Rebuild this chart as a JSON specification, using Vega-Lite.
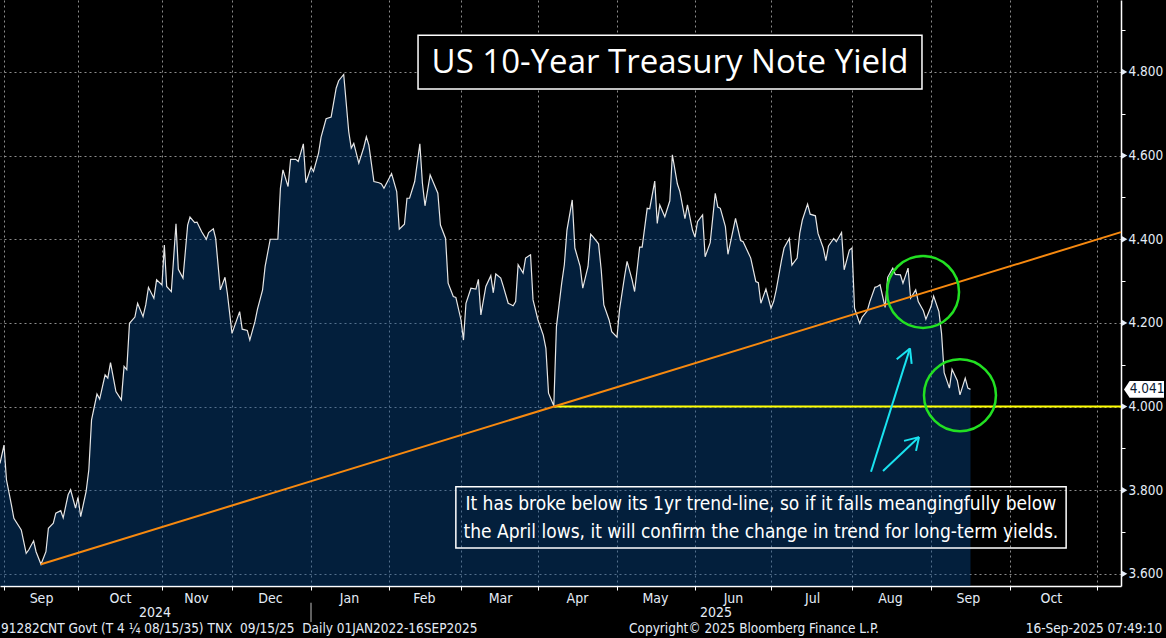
{
  "$schema": "https://vega.github.io/schema/vega-lite/v6.json",
  "width": 1121,
  "height": 586,
  "autosize": {"type": "none"},
  "padding": {"left": 0, "top": 0, "right": 45, "bottom": 52},
  "background": "#000000",
  "config": {"view": {"stroke": null}},
  "resolve": {"axis": {"x": "independent", "y": "independent"}},
  "data": {"values": [
    {"date": "2024-08-30", "v": 3.864}, {"date": "2024-09-01", "v": 3.908}, {"date": "2024-09-02", "v": 3.825}, {"date": "2024-09-04", "v": 3.765},
    {"date": "2024-09-05", "v": 3.733}, {"date": "2024-09-08", "v": 3.705}, {"date": "2024-09-10", "v": 3.649}, {"date": "2024-09-11", "v": 3.657},
    {"date": "2024-09-13", "v": 3.679}, {"date": "2024-09-14", "v": 3.653}, {"date": "2024-09-16", "v": 3.623}, {"date": "2024-09-18", "v": 3.653},
    {"date": "2024-09-19", "v": 3.709}, {"date": "2024-09-21", "v": 3.721}, {"date": "2024-09-22", "v": 3.745}, {"date": "2024-09-24", "v": 3.751},
    {"date": "2024-09-25", "v": 3.734}, {"date": "2024-09-27", "v": 3.789}, {"date": "2024-09-28", "v": 3.801}, {"date": "2024-09-30", "v": 3.757},
    {"date": "2024-10-01", "v": 3.783}, {"date": "2024-10-02", "v": 3.737}, {"date": "2024-10-04", "v": 3.797}, {"date": "2024-10-05", "v": 3.849},
    {"date": "2024-10-06", "v": 3.968}, {"date": "2024-10-08", "v": 4.030}, {"date": "2024-10-09", "v": 4.018}, {"date": "2024-10-11", "v": 4.076},
    {"date": "2024-10-12", "v": 4.068}, {"date": "2024-10-13", "v": 4.105}, {"date": "2024-10-15", "v": 4.036}, {"date": "2024-10-17", "v": 4.016},
    {"date": "2024-10-18", "v": 4.096}, {"date": "2024-10-19", "v": 4.088}, {"date": "2024-10-20", "v": 4.199}, {"date": "2024-10-22", "v": 4.214},
    {"date": "2024-10-23", "v": 4.247}, {"date": "2024-10-25", "v": 4.215}, {"date": "2024-10-26", "v": 4.243}, {"date": "2024-10-27", "v": 4.285},
    {"date": "2024-10-29", "v": 4.259}, {"date": "2024-10-30", "v": 4.303}, {"date": "2024-11-01", "v": 4.291}, {"date": "2024-11-02", "v": 4.386},
    {"date": "2024-11-03", "v": 4.287}, {"date": "2024-11-05", "v": 4.275}, {"date": "2024-11-07", "v": 4.437}, {"date": "2024-11-08", "v": 4.328},
    {"date": "2024-11-10", "v": 4.307}, {"date": "2024-11-12", "v": 4.434}, {"date": "2024-11-13", "v": 4.453}, {"date": "2024-11-15", "v": 4.440},
    {"date": "2024-11-16", "v": 4.441}, {"date": "2024-11-18", "v": 4.418}, {"date": "2024-11-20", "v": 4.400}, {"date": "2024-11-21", "v": 4.416},
    {"date": "2024-11-23", "v": 4.425}, {"date": "2024-11-24", "v": 4.402}, {"date": "2024-11-26", "v": 4.279}, {"date": "2024-11-28", "v": 4.309},
    {"date": "2024-11-29", "v": 4.271}, {"date": "2024-12-01", "v": 4.175}, {"date": "2024-12-04", "v": 4.227}, {"date": "2024-12-05", "v": 4.185},
    {"date": "2024-12-07", "v": 4.182}, {"date": "2024-12-08", "v": 4.159}, {"date": "2024-12-10", "v": 4.203}, {"date": "2024-12-11", "v": 4.233},
    {"date": "2024-12-13", "v": 4.279}, {"date": "2024-12-14", "v": 4.335}, {"date": "2024-12-16", "v": 4.400}, {"date": "2024-12-19", "v": 4.400},
    {"date": "2024-12-20", "v": 4.522}, {"date": "2024-12-21", "v": 4.566}, {"date": "2024-12-23", "v": 4.526}, {"date": "2024-12-24", "v": 4.591},
    {"date": "2024-12-26", "v": 4.591}, {"date": "2024-12-27", "v": 4.586}, {"date": "2024-12-29", "v": 4.628}, {"date": "2024-12-30", "v": 4.535},
    {"date": "2025-01-01", "v": 4.572}, {"date": "2025-01-02", "v": 4.562}, {"date": "2025-01-04", "v": 4.606}, {"date": "2025-01-05", "v": 4.644},
    {"date": "2025-01-07", "v": 4.688}, {"date": "2025-01-09", "v": 4.692}, {"date": "2025-01-11", "v": 4.761}, {"date": "2025-01-12", "v": 4.779},
    {"date": "2025-01-14", "v": 4.794}, {"date": "2025-01-16", "v": 4.657}, {"date": "2025-01-17", "v": 4.618}, {"date": "2025-01-18", "v": 4.629},
    {"date": "2025-01-20", "v": 4.582}, {"date": "2025-01-22", "v": 4.620}, {"date": "2025-01-23", "v": 4.645}, {"date": "2025-01-24", "v": 4.625},
    {"date": "2025-01-26", "v": 4.538}, {"date": "2025-01-28", "v": 4.535}, {"date": "2025-01-29", "v": 4.532}, {"date": "2025-01-30", "v": 4.522},
    {"date": "2025-02-02", "v": 4.557}, {"date": "2025-02-04", "v": 4.514}, {"date": "2025-02-05", "v": 4.424}, {"date": "2025-02-07", "v": 4.436},
    {"date": "2025-02-08", "v": 4.498}, {"date": "2025-02-09", "v": 4.498}, {"date": "2025-02-11", "v": 4.538}, {"date": "2025-02-13", "v": 4.628},
    {"date": "2025-02-14", "v": 4.534}, {"date": "2025-02-15", "v": 4.480}, {"date": "2025-02-17", "v": 4.554}, {"date": "2025-02-20", "v": 4.510},
    {"date": "2025-02-21", "v": 4.434}, {"date": "2025-02-23", "v": 4.402}, {"date": "2025-02-24", "v": 4.295}, {"date": "2025-02-26", "v": 4.263},
    {"date": "2025-02-27", "v": 4.261}, {"date": "2025-03-01", "v": 4.207}, {"date": "2025-03-02", "v": 4.159}, {"date": "2025-03-03", "v": 4.247},
    {"date": "2025-03-05", "v": 4.283}, {"date": "2025-03-07", "v": 4.281}, {"date": "2025-03-08", "v": 4.304}, {"date": "2025-03-09", "v": 4.219},
    {"date": "2025-03-11", "v": 4.287}, {"date": "2025-03-13", "v": 4.313}, {"date": "2025-03-14", "v": 4.272}, {"date": "2025-03-15", "v": 4.317},
    {"date": "2025-03-17", "v": 4.307}, {"date": "2025-03-18", "v": 4.288}, {"date": "2025-03-20", "v": 4.247}, {"date": "2025-03-22", "v": 4.241},
    {"date": "2025-03-23", "v": 4.251}, {"date": "2025-03-24", "v": 4.339}, {"date": "2025-03-26", "v": 4.319}, {"date": "2025-03-27", "v": 4.355},
    {"date": "2025-03-29", "v": 4.363}, {"date": "2025-03-30", "v": 4.255}, {"date": "2025-04-01", "v": 4.207}, {"date": "2025-04-03", "v": 4.171},
    {"date": "2025-04-04", "v": 4.139}, {"date": "2025-04-05", "v": 4.032}, {"date": "2025-04-07", "v": 4.002}, {"date": "2025-04-08", "v": 4.191},
    {"date": "2025-04-10", "v": 4.295}, {"date": "2025-04-11", "v": 4.339}, {"date": "2025-04-12", "v": 4.422}, {"date": "2025-04-14", "v": 4.494},
    {"date": "2025-04-15", "v": 4.379}, {"date": "2025-04-17", "v": 4.335}, {"date": "2025-04-18", "v": 4.283}, {"date": "2025-04-20", "v": 4.335},
    {"date": "2025-04-21", "v": 4.412}, {"date": "2025-04-22", "v": 4.405}, {"date": "2025-04-24", "v": 4.389}, {"date": "2025-04-25", "v": 4.327},
    {"date": "2025-04-26", "v": 4.243}, {"date": "2025-04-28", "v": 4.207}, {"date": "2025-04-29", "v": 4.179}, {"date": "2025-05-01", "v": 4.166},
    {"date": "2025-05-02", "v": 4.231}, {"date": "2025-05-04", "v": 4.311}, {"date": "2025-05-05", "v": 4.347}, {"date": "2025-05-07", "v": 4.303},
    {"date": "2025-05-08", "v": 4.275}, {"date": "2025-05-10", "v": 4.381}, {"date": "2025-05-11", "v": 4.381}, {"date": "2025-05-13", "v": 4.474},
    {"date": "2025-05-14", "v": 4.473}, {"date": "2025-05-16", "v": 4.539}, {"date": "2025-05-17", "v": 4.438}, {"date": "2025-05-18", "v": 4.482},
    {"date": "2025-05-20", "v": 4.454}, {"date": "2025-05-22", "v": 4.492}, {"date": "2025-05-23", "v": 4.602}, {"date": "2025-05-25", "v": 4.532},
    {"date": "2025-05-26", "v": 4.514}, {"date": "2025-05-28", "v": 4.449}, {"date": "2025-05-29", "v": 4.482}, {"date": "2025-05-31", "v": 4.422},
    {"date": "2025-06-01", "v": 4.405}, {"date": "2025-06-02", "v": 4.442}, {"date": "2025-06-04", "v": 4.458}, {"date": "2025-06-05", "v": 4.358},
    {"date": "2025-06-07", "v": 4.392}, {"date": "2025-06-09", "v": 4.510}, {"date": "2025-06-10", "v": 4.477}, {"date": "2025-06-11", "v": 4.474},
    {"date": "2025-06-13", "v": 4.430}, {"date": "2025-06-14", "v": 4.364}, {"date": "2025-06-17", "v": 4.450}, {"date": "2025-06-19", "v": 4.397},
    {"date": "2025-06-20", "v": 4.394}, {"date": "2025-06-23", "v": 4.355}, {"date": "2025-06-25", "v": 4.299}, {"date": "2025-06-26", "v": 4.296},
    {"date": "2025-06-27", "v": 4.247}, {"date": "2025-06-29", "v": 4.281}, {"date": "2025-07-01", "v": 4.235}, {"date": "2025-07-02", "v": 4.251},
    {"date": "2025-07-03", "v": 4.279}, {"date": "2025-07-05", "v": 4.349}, {"date": "2025-07-06", "v": 4.379}, {"date": "2025-07-08", "v": 4.402},
    {"date": "2025-07-09", "v": 4.338}, {"date": "2025-07-11", "v": 4.355}, {"date": "2025-07-12", "v": 4.414}, {"date": "2025-07-13", "v": 4.446},
    {"date": "2025-07-15", "v": 4.484}, {"date": "2025-07-16", "v": 4.460}, {"date": "2025-07-18", "v": 4.456}, {"date": "2025-07-19", "v": 4.414},
    {"date": "2025-07-21", "v": 4.379}, {"date": "2025-07-22", "v": 4.349}, {"date": "2025-07-23", "v": 4.384}, {"date": "2025-07-25", "v": 4.402},
    {"date": "2025-07-26", "v": 4.394}, {"date": "2025-07-28", "v": 4.416}, {"date": "2025-07-29", "v": 4.327}, {"date": "2025-07-31", "v": 4.374},
    {"date": "2025-08-01", "v": 4.379}, {"date": "2025-08-02", "v": 4.235}, {"date": "2025-08-04", "v": 4.199}, {"date": "2025-08-05", "v": 4.214},
    {"date": "2025-08-07", "v": 4.229}, {"date": "2025-08-08", "v": 4.251}, {"date": "2025-08-10", "v": 4.285}, {"date": "2025-08-11", "v": 4.287},
    {"date": "2025-08-12", "v": 4.291}, {"date": "2025-08-14", "v": 4.237}, {"date": "2025-08-15", "v": 4.309}, {"date": "2025-08-17", "v": 4.331},
    {"date": "2025-08-18", "v": 4.316}, {"date": "2025-08-20", "v": 4.315}, {"date": "2025-08-21", "v": 4.295}, {"date": "2025-08-23", "v": 4.331},
    {"date": "2025-08-24", "v": 4.259}, {"date": "2025-08-26", "v": 4.279}, {"date": "2025-08-27", "v": 4.251}, {"date": "2025-08-29", "v": 4.229},
    {"date": "2025-08-30", "v": 4.209}, {"date": "2025-09-01", "v": 4.239}, {"date": "2025-09-02", "v": 4.264}, {"date": "2025-09-04", "v": 4.227},
    {"date": "2025-09-05", "v": 4.175}, {"date": "2025-09-06", "v": 4.081}, {"date": "2025-09-08", "v": 4.044}, {"date": "2025-09-09", "v": 4.089},
    {"date": "2025-09-11", "v": 4.062}, {"date": "2025-09-12", "v": 4.028}, {"date": "2025-09-14", "v": 4.068}, {"date": "2025-09-15", "v": 4.044},
    {"date": "2025-09-16", "v": 4.041}
  ]},
  "layer": [
    {
      "mark": {"type": "area", "color": "#074a8e", "fillOpacity": 0.42, "clip": true},
      "encoding": {
        "x": {
          "field": "date", "type": "temporal",
          "scale": {
            "nice": false,
            "domainRaw": {"expr": "[utc(2024,7,30),utc(2024,8,1),utc(2024,9,1),utc(2024,10,1),utc(2024,11,1),utc(2025,0,1),utc(2025,1,1),utc(2025,2,1),utc(2025,3,1),utc(2025,4,1),utc(2025,5,1),utc(2025,6,1),utc(2025,7,1),utc(2025,8,1),utc(2025,9,1),utc(2025,10,1),utc(2025,10,10)]"},
            "domain": [
              {"year": 2024, "month": 8, "date": 30, "utc": true},
              {"year": 2025, "month": 11, "date": 10, "utc": true}
            ],
            "range": [0, 4, 78, 162, 232, 311, 389, 461, 538, 617, 695, 771, 852, 931, 1010, 1097, 1121]
          },
          "axis": {
            "title": null, "orient": "bottom",
            "values": [
              {"year": 2024, "month": 9, "date": 1, "utc": true},
              {"year": 2024, "month": 10, "date": 1, "utc": true},
              {"year": 2024, "month": 11, "date": 1, "utc": true},
              {"year": 2024, "month": 12, "date": 1, "utc": true},
              {"year": 2025, "month": 1, "date": 1, "utc": true},
              {"year": 2025, "month": 2, "date": 1, "utc": true},
              {"year": 2025, "month": 3, "date": 1, "utc": true},
              {"year": 2025, "month": 4, "date": 1, "utc": true},
              {"year": 2025, "month": 5, "date": 1, "utc": true},
              {"year": 2025, "month": 6, "date": 1, "utc": true},
              {"year": 2025, "month": 7, "date": 1, "utc": true},
              {"year": 2025, "month": 8, "date": 1, "utc": true},
              {"year": 2025, "month": 9, "date": 1, "utc": true},
              {"year": 2025, "month": 10, "date": 1, "utc": true},
              {"year": 2025, "month": 11, "date": 1, "utc": true}
            ],
            "labels": false,
            "grid": true, "gridColor": "#8c8c8c", "gridDash": [2, 3], "gridWidth": 1,
            "ticks": true, "tickSize": 4, "tickColor": "#ffffff", "tickWidth": 1,
            "domain": true, "domainColor": "#ffffff", "domainWidth": 1.5
          }
        },
        "y": {
          "field": "v", "type": "quantitative",
          "scale": {"domain": [3.571, 4.972], "zero": false, "nice": false},
          "axis": {
            "orient": "right", "title": null,
            "values": [3.6, 3.8, 4.0, 4.2, 4.4, 4.6, 4.8],
            "format": ".3f",
            "domain": true, "domainColor": "#ffffff", "domainWidth": 1.5,
            "ticks": true, "tickColor": "#ffffff", "tickSize": 3,
            "grid": true, "gridColor": "#8c8c8c", "gridDash": [2, 3],
            "labelPadding": 4,
            "labelFont": "Liberation Sans Narrow, Arial Narrow, DejaVu Sans Condensed, sans-serif",
            "labelFontSize": 13.5, "labelColor": "#e4ecf7",
            "labelBound": false, "labelOverlap": false, "labelFlush": false
          }
        }
      }
    },
    {
      "mark": {"type": "line", "color": "#e6e6e6", "strokeWidth": 1.2, "clip": true},
      "encoding": {
        "x": {
          "field": "date", "type": "temporal",
          "axis": {
            "title": null, "orient": "bottom",
            "values": [
              {"year": 2024, "month": 9, "date": 16, "utc": true},
              {"year": 2024, "month": 10, "date": 16, "hours": 12, "utc": true},
              {"year": 2024, "month": 11, "date": 15, "hours": 14, "utc": true},
              {"year": 2024, "month": 12, "date": 15, "hours": 22, "utc": true},
              {"year": 2025, "month": 1, "date": 16, "hours": 2, "utc": true},
              {"year": 2025, "month": 2, "date": 14, "hours": 14, "utc": true},
              {"year": 2025, "month": 3, "date": 16, "hours": 17, "utc": true},
              {"year": 2025, "month": 4, "date": 15, "hours": 19, "utc": true},
              {"year": 2025, "month": 5, "date": 16, "hours": 2, "utc": true},
              {"year": 2025, "month": 6, "date": 16, "utc": true},
              {"year": 2025, "month": 7, "date": 16, "hours": 17, "utc": true},
              {"year": 2025, "month": 8, "date": 15, "hours": 22, "utc": true},
              {"year": 2025, "month": 9, "date": 15, "hours": 1, "utc": true},
              {"year": 2025, "month": 10, "date": 15, "hours": 14, "utc": true}
            ],
            "labelExpr": "utcFormat(datum.value, '%b')",
            "grid": false, "ticks": false, "domain": false,
            "labelPadding": 5,
            "labelFont": "Liberation Sans Narrow, Arial Narrow, DejaVu Sans Condensed, sans-serif",
            "labelFontSize": 14, "labelColor": "#e4ecf7",
            "labelBound": false, "labelOverlap": false, "labelFlush": false
          }
        },
        "y": {
          "field": "v", "type": "quantitative",
          "axis": {
            "orient": "right", "title": null,
            "values": [3.7, 3.9, 4.1, 4.3, 4.5, 4.7, 4.9],
            "labels": false, "grid": false, "domain": false,
            "ticks": true, "tickColor": "#ffffff", "tickSize": 4
          }
        }
      }
    },
    {
      "data": {"values": [{"tick": 3.6}, {"tick": 3.8}, {"tick": 4.0}, {"tick": 4.2}, {"tick": 4.4}, {"tick": 4.6}, {"tick": 4.8}]},
      "mark": {"type": "point", "shape": "triangle-right", "filled": true, "color": "#e4ecf7", "opacity": 1, "size": 40, "clip": false},
      "encoding": {
        "x": {"datum": {"year": 2025, "month": 11, "date": 11, "hours": 8, "utc": true}, "type": "temporal", "axis": null},
        "y": {"field": "tick", "type": "quantitative", "axis": null}
      }
    },
    {
      "data": {"values": [{}]},
      "mark": {"type": "rule", "color": "#ffff00", "strokeWidth": 2},
      "encoding": {
        "x": {"datum": {"year": 2025, "month": 4, "date": 7, "utc": true}, "type": "temporal", "axis": null},
        "x2": {"datum": {"year": 2025, "month": 11, "date": 10, "utc": true}},
        "y": {"datum": 4.0, "type": "quantitative", "axis": null}
      }
    },
    {
      "data": {"values": [{}]},
      "mark": {"type": "rule", "color": "#f7890f", "strokeWidth": 2},
      "encoding": {
        "x": {"datum": {"year": 2024, "month": 9, "date": 16, "utc": true}, "type": "temporal", "axis": null},
        "x2": {"datum": {"year": 2025, "month": 11, "date": 10, "utc": true}},
        "y": {"datum": 3.623, "type": "quantitative", "axis": null},
        "y2": {"datum": 4.417}
      }
    },
    {
      "data": {"values": [{}]},
      "mark": {"type": "point", "shape": "circle", "filled": false, "color": "#22e022", "strokeWidth": 2.5, "size": 5184, "opacity": 1},
      "encoding": {
        "x": {"datum": {"year": 2025, "month": 8, "date": 28, "hours": 21, "utc": true}, "type": "temporal", "axis": null},
        "y": {"datum": 4.274, "type": "quantitative", "axis": null}
      }
    },
    {
      "data": {"values": [{}]},
      "mark": {"type": "point", "shape": "circle", "filled": false, "color": "#22e022", "strokeWidth": 2.5, "size": 5184, "opacity": 1},
      "encoding": {
        "x": {"datum": {"year": 2025, "month": 9, "date": 12, "utc": true}, "type": "temporal", "axis": null},
        "y": {"datum": 4.027, "type": "quantitative", "axis": null}
      }
    },
    {
      "data": {"values": [{}]},
      "mark": {"type": "rule", "color": "#19e3f0", "strokeWidth": 2},
      "encoding": {
        "x": {"datum": {"year": 2025, "month": 8, "date": 8, "hours": 11, "utc": true}, "type": "temporal", "axis": null},
        "x2": {"datum": {"year": 2025, "month": 8, "date": 23, "hours": 18, "utc": true}},
        "y": {"datum": 3.844, "type": "quantitative", "axis": null},
        "y2": {"datum": 4.139}
      }
    },
    {
      "data": {"values": [{}]},
      "mark": {"type": "rule", "color": "#19e3f0", "strokeWidth": 2},
      "encoding": {
        "x": {"datum": {"year": 2025, "month": 8, "date": 23, "hours": 18, "utc": true}, "type": "temporal", "axis": null},
        "x2": {"datum": {"year": 2025, "month": 8, "date": 18, "hours": 13, "utc": true}},
        "y": {"datum": 4.139, "type": "quantitative", "axis": null},
        "y2": {"datum": 4.113}
      }
    },
    {
      "data": {"values": [{}]},
      "mark": {"type": "rule", "color": "#19e3f0", "strokeWidth": 2},
      "encoding": {
        "x": {"datum": {"year": 2025, "month": 8, "date": 23, "hours": 18, "utc": true}, "type": "temporal", "axis": null},
        "x2": {"datum": {"year": 2025, "month": 8, "date": 24, "hours": 10, "utc": true}},
        "y": {"datum": 4.139, "type": "quantitative", "axis": null},
        "y2": {"datum": 4.102}
      }
    },
    {
      "data": {"values": [{}]},
      "mark": {"type": "rule", "color": "#19e3f0", "strokeWidth": 2},
      "encoding": {
        "x": {"datum": {"year": 2025, "month": 8, "date": 13, "hours": 4, "utc": true}, "type": "temporal", "axis": null},
        "x2": {"datum": {"year": 2025, "month": 8, "date": 27, "hours": 7, "utc": true}},
        "y": {"datum": 3.846, "type": "quantitative", "axis": null},
        "y2": {"datum": 3.927}
      }
    },
    {
      "data": {"values": [{}]},
      "mark": {"type": "rule", "color": "#19e3f0", "strokeWidth": 2},
      "encoding": {
        "x": {"datum": {"year": 2025, "month": 8, "date": 27, "hours": 7, "utc": true}, "type": "temporal", "axis": null},
        "x2": {"datum": {"year": 2025, "month": 8, "date": 21, "hours": 10, "utc": true}},
        "y": {"datum": 3.927, "type": "quantitative", "axis": null},
        "y2": {"datum": 3.918}
      }
    },
    {
      "data": {"values": [{}]},
      "mark": {"type": "rule", "color": "#19e3f0", "strokeWidth": 2},
      "encoding": {
        "x": {"datum": {"year": 2025, "month": 8, "date": 27, "hours": 7, "utc": true}, "type": "temporal", "axis": null},
        "x2": {"datum": {"year": 2025, "month": 8, "date": 26, "hours": 3, "utc": true}},
        "y": {"datum": 3.927, "type": "quantitative", "axis": null},
        "y2": {"datum": 3.894}
      }
    },
    {
      "data": {"values": [{}]},
      "mark": {"type": "rect", "fill": "#000000", "stroke": "#ffffff", "strokeWidth": 1.5},
      "encoding": {
        "x": {"datum": {"year": 2025, "month": 2, "date": 12, "hours": 7, "utc": true}, "type": "temporal", "axis": null},
        "x2": {"datum": {"year": 2025, "month": 8, "date": 28, "hours": 11, "utc": true}},
        "y": {"datum": 4.888, "type": "quantitative", "axis": null},
        "y2": {"datum": 4.759}
      }
    },
    {
      "data": {"values": [{}]},
      "mark": {"type": "text", "text": "US 10-Year Treasury Note Yield", "font": "Open Sans", "fontSize": 33, "color": "#ffffff", "align": "center", "baseline": "alphabetic"},
      "encoding": {
        "x": {"datum": {"year": 2025, "month": 5, "date": 22, "hours": 2, "utc": true}, "type": "temporal", "axis": null},
        "y": {"datum": 4.798, "type": "quantitative", "axis": null}
      }
    },
    {
      "data": {"values": [{}]},
      "mark": {"type": "rect", "fillOpacity": 0, "fill": "#000000", "stroke": "#ffffff", "strokeWidth": 1.5},
      "encoding": {
        "x": {"datum": {"year": 2025, "month": 2, "date": 27, "utc": true}, "type": "temporal", "axis": null},
        "x2": {"datum": {"year": 2025, "month": 10, "date": 21, "utc": true}},
        "y": {"datum": 3.808, "type": "quantitative", "axis": null},
        "y2": {"datum": 3.662}
      }
    },
    {
      "data": {"values": [{}]},
      "mark": {"type": "text", "text": ["It has broke below its 1yr trend-line, so if it falls meangingfully below", "the April lows, it will confirm the change in trend for long-term yields."], "font": "Liberation Sans Narrow, Arial Narrow, DejaVu Sans Condensed, sans-serif", "fontSize": 19, "lineHeight": 28, "color": "#ffffff", "align": "center", "baseline": "middle"},
      "encoding": {
        "x": {"datum": {"year": 2025, "month": 6, "date": 27, "utc": true}, "type": "temporal", "axis": null},
        "y": {"datum": 3.767, "type": "quantitative", "axis": null}
      }
    },
    {
      "data": {"values": [{}]},
      "mark": {"type": "point", "shape": "M-1,0L-0.72,-0.42L1,-0.42L1,0.42L-0.72,0.42Z", "filled": true, "color": "#ffffff", "opacity": 1, "size": 1600},
      "encoding": {
        "x": {"datum": {"year": 2025, "month": 11, "date": 18, "hours": 15, "utc": true}, "type": "temporal", "axis": null},
        "y": {"datum": 4.041, "type": "quantitative", "axis": null}
      }
    },
    {
      "data": {"values": [{}]},
      "mark": {"type": "text", "text": "4.041", "font": "Liberation Sans Narrow, Arial Narrow, DejaVu Sans Condensed, sans-serif", "fontSize": 13.5, "color": "#0a1a33", "align": "center", "baseline": "middle", "dx": 3},
      "encoding": {
        "x": {"datum": {"year": 2025, "month": 11, "date": 18, "hours": 15, "utc": true}, "type": "temporal", "axis": null},
        "y": {"datum": 4.041, "type": "quantitative", "axis": null}
      }
    },
    {
      "data": {"values": [{}]},
      "mark": {"type": "text", "text": "2024", "font": "Liberation Sans Narrow, Arial Narrow, DejaVu Sans Condensed, sans-serif", "fontSize": 14, "color": "#e4ecf7", "align": "center", "baseline": "middle"},
      "encoding": {
        "x": {"datum": {"year": 2024, "month": 10, "date": 29, "hours": 10, "utc": true}, "type": "temporal", "axis": null},
        "y": {"datum": 3.506, "type": "quantitative", "axis": null}
      }
    },
    {
      "data": {"values": [{}]},
      "mark": {"type": "text", "text": "2025", "font": "Liberation Sans Narrow, Arial Narrow, DejaVu Sans Condensed, sans-serif", "fontSize": 14, "color": "#e4ecf7", "align": "center", "baseline": "middle"},
      "encoding": {
        "x": {"datum": {"year": 2025, "month": 6, "date": 9, "hours": 7, "utc": true}, "type": "temporal", "axis": null},
        "y": {"datum": 3.506, "type": "quantitative", "axis": null}
      }
    },
    {
      "data": {"values": [{}]},
      "mark": {"type": "rule", "color": "#bfbfbf", "strokeWidth": 1},
      "encoding": {
        "x": {"datum": {"year": 2025, "month": 1, "date": 1, "utc": true}, "type": "temporal", "axis": null},
        "y": {"datum": 3.531, "type": "quantitative", "axis": null},
        "y2": {"datum": 3.485}
      }
    },
    {
      "data": {"values": [{}]},
      "mark": {"type": "text", "text": "91282CNT Govt (T 4 ¼ 08/15/35) TNX \u00a009/15/25 \u00a0Daily 01JAN2022-16SEP2025", "font": "Liberation Sans Narrow, Arial Narrow, DejaVu Sans Condensed, sans-serif", "fontSize": 13.5, "color": "#e4ecf7", "align": "left", "baseline": "middle"},
      "encoding": {
        "x": {"datum": {"year": 2024, "month": 8, "date": 30, "hours": 12, "utc": true}, "type": "temporal", "axis": null},
        "y": {"datum": 3.468, "type": "quantitative", "axis": null}
      }
    },
    {
      "data": {"values": [{}]},
      "mark": {"type": "text", "text": "Copyright© 2025 Bloomberg Finance L.P.", "font": "Liberation Sans Narrow, Arial Narrow, DejaVu Sans Condensed, sans-serif", "fontSize": 13.5, "color": "#e4ecf7", "align": "center", "baseline": "middle"},
      "encoding": {
        "x": {"datum": {"year": 2025, "month": 6, "date": 24, "hours": 7, "utc": true}, "type": "temporal", "axis": null},
        "y": {"datum": 3.468, "type": "quantitative", "axis": null}
      }
    },
    {
      "data": {"values": [{}]},
      "mark": {"type": "text", "text": "16-Sep-2025 07:49:10", "font": "Liberation Sans Narrow, Arial Narrow, DejaVu Sans Condensed, sans-serif", "fontSize": 13.5, "color": "#e4ecf7", "align": "right", "baseline": "middle"},
      "encoding": {
        "x": {"datum": {"year": 2025, "month": 11, "date": 25, "hours": 10, "utc": true}, "type": "temporal", "axis": null},
        "y": {"datum": 3.468, "type": "quantitative", "axis": null}
      }
    }
  ]
}
